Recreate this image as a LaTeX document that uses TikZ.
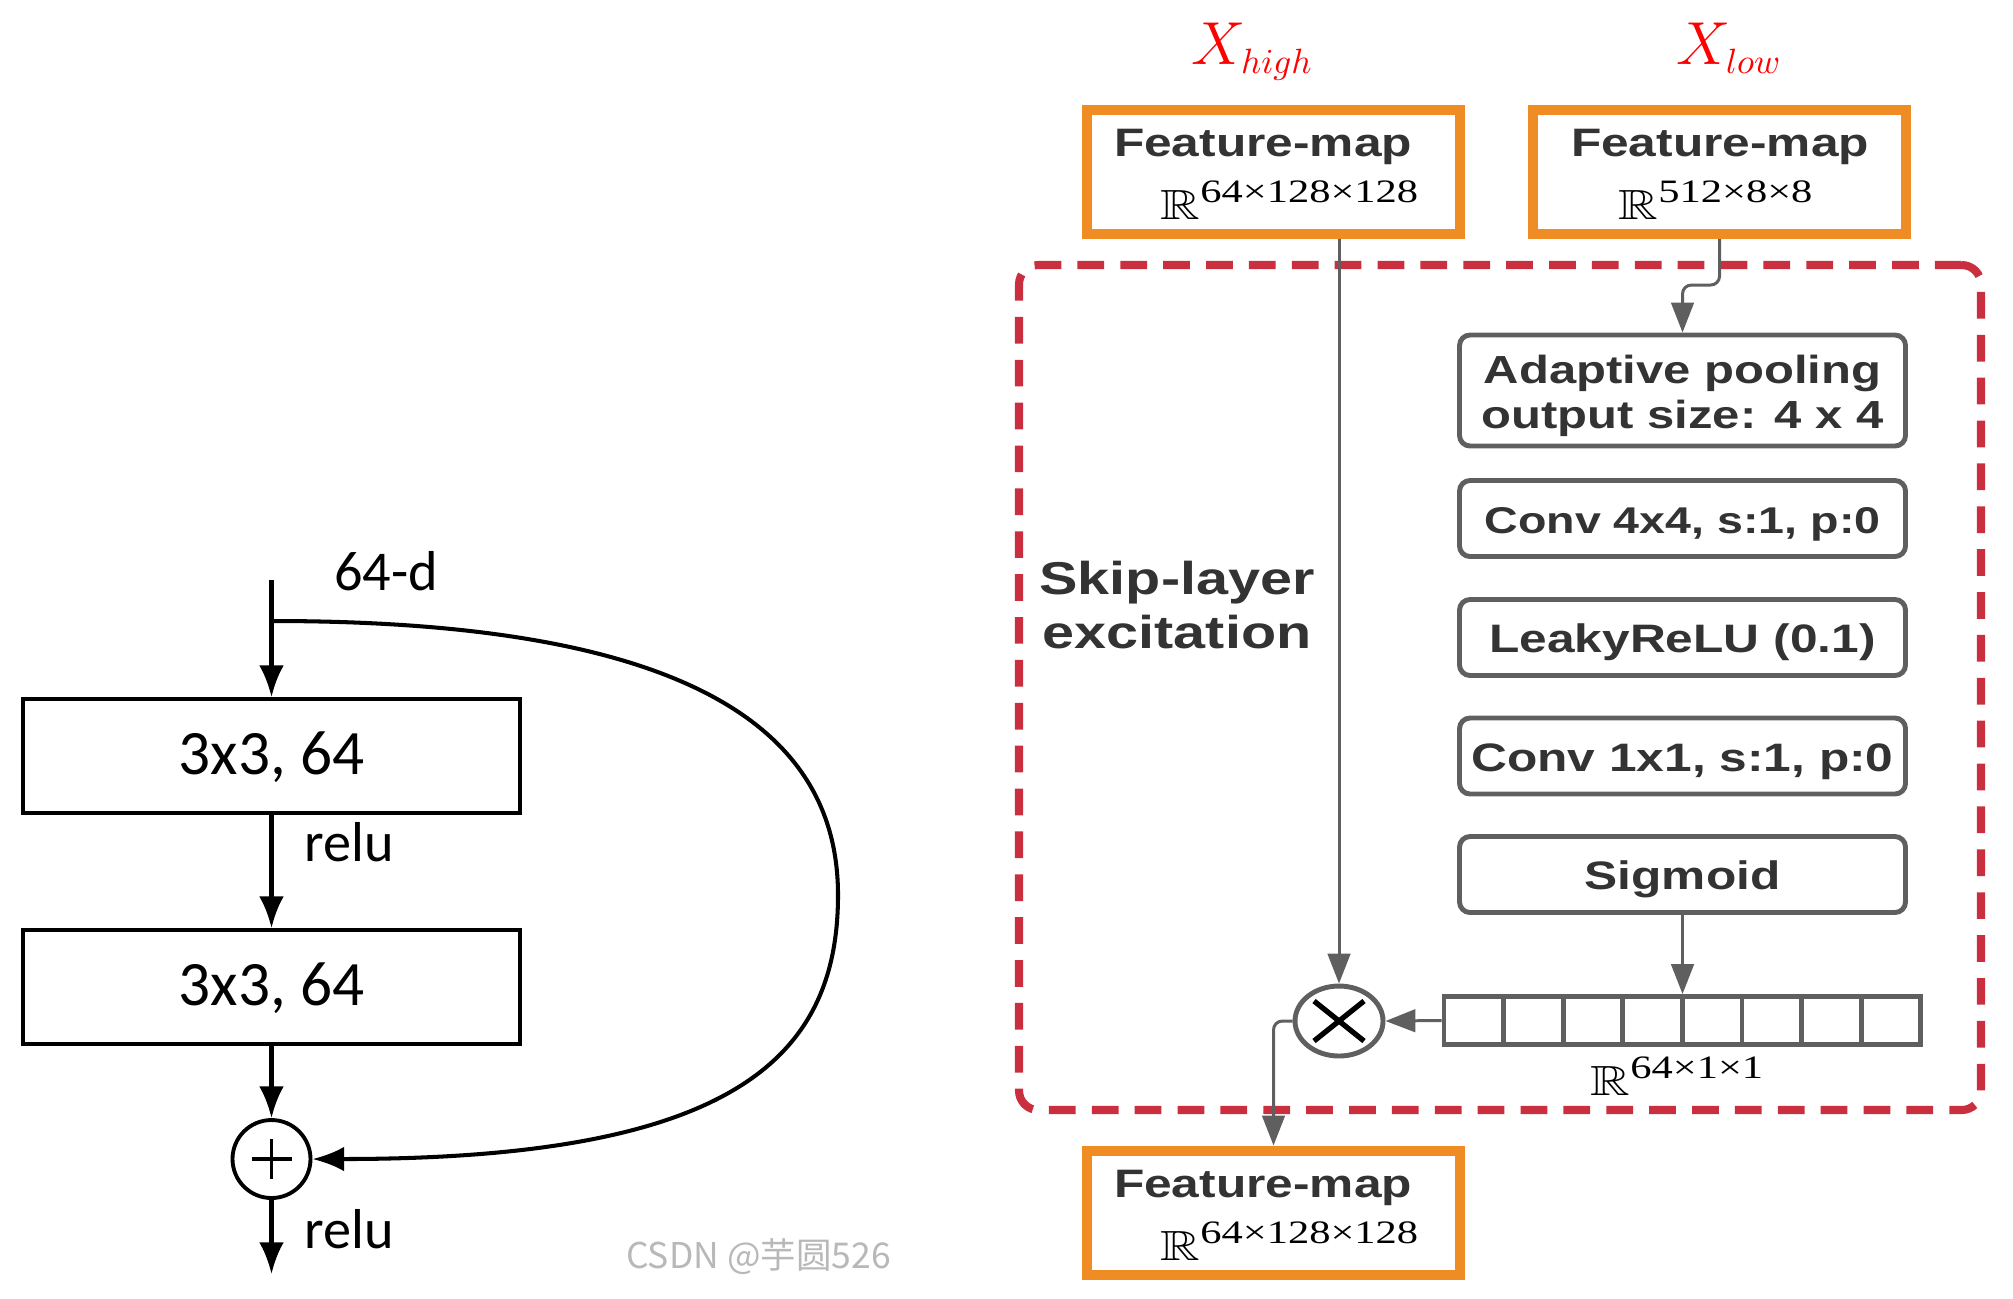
\documentclass[tikz,border=0pt]{standalone}
\usepackage{amsmath,amssymb}
\usepackage{fontspec}
\usepackage{graphicx}
\usepackage{xcolor}
\usetikzlibrary{arrows.meta,shapes.geometric}
\newfontfamily\boldwide[FakeStretch=1.25]{Liberation Sans Bold}
\newfontfamily\dimfont{Liberation Serif}
\newfontfamily\carlito{Carlito}
\newfontfamily\cjkmark{Noto Sans CJK SC}
\definecolor{fmorange}{HTML}{F08C24}
\definecolor{frmred}{HTML}{C92F3E}
\definecolor{linegray}{HTML}{5F5F5F}
\definecolor{inkgray}{HTML}{333333}
\newcommand{\realdim}[1]{\scalebox{1.3}[1]{\fontsize{12}{14}\selectfont$\mathbb{R}$\raisebox{4.8pt}{\dimfont\fontsize{9.3}{11}\selectfont #1}}}
\newcommand{\xname}[1]{$X_{\mbox{\fontsize{10.4}{12}\selectfont$#1$}}$}
\tikzset{
  fmbox/.style={draw=fmorange,line width=2.85pt,minimum width=3.73cm,minimum height=1.24cm},
  opbox/.style={draw=linegray,line width=1.4pt,rounded corners=3pt,minimum width=4.46cm,minimum height=0.76cm,text=inkgray,font=\boldwide\fontsize{11.3}{13}\selectfont,align=center,execute at begin node={\rule{0pt}{11pt}}},
  cellbox/.style={draw=linegray,line width=1.4pt,minimum width=0.596cm,minimum height=0.48cm},
  blockbox/.style={draw=black,line width=1.1pt,minimum width=4.97cm,minimum height=1.14cm,font=\carlito\fontsize{18}{22}\selectfont,execute at begin node={\rule{0pt}{12.8pt}}},
  conn/.style={draw=linegray,line width=0.85pt,-{Triangle[length=8.5pt,width=6.4pt]}},
  flow/.style={draw=black,line width=1.15pt,-{Latex[length=9pt,width=7pt]}},
  dimtxt/.style={anchor=base west,inner sep=0pt},
  fmtxt/.style={anchor=base,inner sep=0pt,text=inkgray,font=\boldwide\fontsize{11.3}{13}\selectfont},
  lbl/.style={inner sep=0pt,font=\carlito\fontsize{16}{19}\selectfont}
}
\begin{document}
\begin{tikzpicture}[y=-1cm]
\useasboundingbox (0,0) rectangle (20.13,12.98);

% left block
\coordinate (in) at (2.715,5.80);
\coordinate (split) at (2.73,6.21);
\coordinate (out) at (2.715,12.74);
\node[blockbox] (block1) at (2.715,7.56) {3x3, 64};
\node[blockbox] (block2) at (2.715,9.87) {3x3, 64};
\node[circle,draw=black,line width=1.1pt,minimum size=0.78cm] (plus) at (2.715,11.59) {};
\draw[line width=1.1pt] ([xshift=-0.2cm]plus.center) -- ([xshift=0.2cm]plus.center);
\draw[line width=1.1pt] ([yshift=-0.2cm]plus.center) -- ([yshift=0.2cm]plus.center);
\node[lbl] (dlabel) at (3.86,5.71) {64-d};
\node[lbl] (relu1) at (3.49,8.42) {relu};
\node[lbl] (relu2) at (3.49,12.29) {relu};

\draw[flow] (in) -- (block1.north);
\draw[flow] (block1.south) -- (block2.north);
\draw[flow] (block2.south) -- (plus.north);
\draw[flow] (plus.south) -- (out);
\draw[flow] (split) .. controls (6.9,6.21) and (8.38,7.3) .. (8.38,8.95)
  .. controls (8.38,10.6) and (7.3,11.59) .. (plus.east);

\node[inner sep=0pt,text=black!28,font=\cjkmark\fontsize{10.1}{12}\selectfont] (mark) at (7.585,12.57) {CSDN @芋圆526};

% right block
\node[draw=frmred,line width=2.3pt,rounded corners=5.5pt,dash pattern=on 7.6pt off 4.6pt,minimum width=9.62cm,minimum height=8.45cm] (frame) at (15.00,6.875) {};

\node[fmbox] (fmhigh) at (12.735,1.72) {};
\node[fmbox] (fmlow) at (17.195,1.72) {};
\node[fmbox] (fmout) at (12.735,12.125) {};

\node[fmtxt] (fmhightxt) at (12.63,1.56) {Feature-map};
\node[fmtxt] (fmlowtxt) at (17.20,1.56) {Feature-map};
\node[fmtxt] (fmouttxt) at (12.63,11.97) {Feature-map};
\node[dimtxt] (dimhigh) at (11.60,2.19) {\realdim{64×128×128}};
\node[dimtxt] (dimlow) at (16.18,2.19) {\realdim{512×8×8}};
\node[dimtxt] (dimout) at (11.60,12.60) {\realdim{64×128×128}};
\node[dimtxt] (dimcell) at (15.90,10.95) {\realdim{64×1×1}};

\node[dimtxt,text=red,font=\fontsize{16}{19}\selectfont] (xhigh) at (11.91,0.64) {\xname{high}};
\node[dimtxt,text=red,font=\fontsize{16}{19}\selectfont] (xlow) at (16.76,0.64) {\xname{low}};

\node[inner sep=0pt,align=center,text=inkgray,font=\boldwide\fontsize{13.1}{15.6}\selectfont] (skip) at (11.77,6.05) {Skip-layer\\excitation};

\node[opbox,minimum height=1.11cm] (adaptive) at (16.825,3.905) {};
\node[inner sep=0pt,align=center,text=inkgray,font=\boldwide\fontsize{11.15}{13}\selectfont] (adaptivetxt) at (16.825,3.96) {Adaptive pooling\\output size: 4 x 4};
\node[opbox,font=\boldwide\fontsize{10.6}{13}\selectfont] (conv4) at (16.825,5.185) {Conv 4x4, s:1, p:0};
\node[opbox] (leaky) at (16.825,6.375) {LeakyReLU (0.1)};
\node[opbox] (conv1) at (16.825,7.56) {Conv 1x1, s:1, p:0};
\node[opbox] (sigmoid) at (16.825,8.745) {Sigmoid};

\node[cellbox] (cell1) at (14.738,10.205) {};
\node[cellbox] (cell2) at (15.334,10.205) {};
\node[cellbox] (cell3) at (15.930,10.205) {};
\node[cellbox] (cell4) at (16.526,10.205) {};
\node[cellbox] (cell5) at (17.122,10.205) {};
\node[cellbox] (cell6) at (17.718,10.205) {};
\node[cellbox] (cell7) at (18.314,10.205) {};
\node[cellbox] (cell8) at (18.910,10.205) {};

\node[ellipse,draw=linegray,line width=1.4pt,minimum width=0.88cm,minimum height=0.70cm,inner sep=0pt] (mult) at (13.39,10.21) {};
\draw[line width=1.5pt] ([shift={(-0.25,-0.2)}]mult.center) -- ([shift={(0.25,0.2)}]mult.center);
\draw[line width=1.5pt] ([shift={(-0.25,0.2)}]mult.center) -- ([shift={(0.25,-0.2)}]mult.center);

\coordinate (jog) at (16.825,2.85);
\draw[conn] (fmhigh.south -| mult.north) -- (mult.north);
\draw[conn,rounded corners=2.5pt] (fmlow.south) |- (jog) -- (adaptive.north);
\draw[conn] (sigmoid.south) -- (sigmoid.south |- cell5.north);
\draw[conn] (cell1.west) -- (mult.east);
\draw[conn,rounded corners=2.5pt] (mult.west) -| (fmout.north);
\end{tikzpicture}
\end{document}
